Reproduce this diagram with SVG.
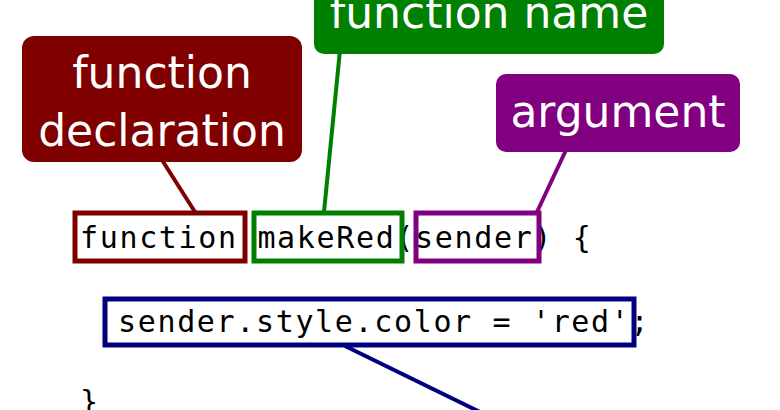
<svg xmlns="http://www.w3.org/2000/svg" width="780" height="410" viewBox="0 0 780 410">
<style>
.lbl{font-family:"DejaVu Sans","Liberation Sans",sans-serif;font-size:44px;fill:#fff;text-anchor:middle}
.code{font-family:"DejaVu Sans Mono","Liberation Mono",monospace;font-size:30px;letter-spacing:1.65px;fill:#000}
.box{fill:none;stroke-width:5}
.con{stroke-width:4;fill:none}
</style>
<rect width="780" height="410" fill="#fff"/>
<g id="connectors">
<line class="con" x1="162" y1="160" x2="195" y2="212" stroke="#800000"/>
<line class="con" x1="340" y1="50" x2="324" y2="212" stroke="#008000"/>
<line class="con" x1="566" y1="150" x2="537" y2="212" stroke="#800080"/>
<line class="con" x1="345" y1="346" x2="480" y2="412" stroke="#000080"/>
</g>
<g id="label-decl">
<rect x="22" y="36" width="280" height="126" rx="12" fill="#800000"/>
<text class="lbl" x="162" y="88">function</text>
<text class="lbl" x="162" y="146">declaration</text>
</g>
<g id="label-name">
<rect x="314" y="-12" width="350" height="66" rx="10" fill="#008000"/>
<text class="lbl" x="489" y="28">function name</text>
</g>
<g id="label-arg">
<rect x="496" y="74" width="244" height="78" rx="10" fill="#800080"/>
<text class="lbl" x="618" y="127">argument</text>
</g>
<g id="code">
<text class="code" x="80" y="248" xml:space="preserve">function makeRed(sender) {</text>
<text class="code" x="118" y="332">sender.style.color = 'red';</text>
<text class="code" x="80" y="412">}</text>
</g>
<g id="box-function"><rect class="box" x="75" y="213" width="170" height="48" stroke="#800000"/></g>
<g id="box-name"><rect class="box" x="254" y="213" width="148" height="48" stroke="#008000"/></g>
<g id="box-arg"><rect class="box" x="416" y="213" width="123" height="48" stroke="#800080"/></g>
<g id="box-body"><rect class="box" x="105" y="299" width="529" height="46" stroke="#000080"/></g>
</svg>
